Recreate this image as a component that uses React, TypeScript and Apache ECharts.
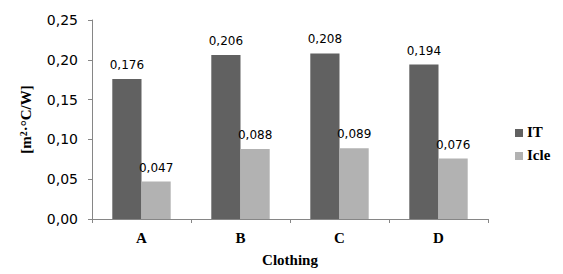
import React, { useEffect, useRef } from "react";
import * as echarts from "echarts";

const categories = ["A", "B", "C", "D"];
const seriesNames = ["IT", "Icle"];
const itValues = [0.176, 0.206, 0.208, 0.194];
const icleValues = [0.047, 0.088, 0.089, 0.076];
const SERIF = "Liberation Serif";
const SANS = "DejaVu Sans";

const fmt = (v: number, d: number) => v.toFixed(d).replace(".", ",");

export default function App() {
  const ref = useRef<HTMLDivElement>(null);
  useEffect(() => {
    const chart = echarts.init(ref.current!, null, { renderer: "svg" });
    const label = {
      show: true,
      position: "top" as const,
      distance: 8,
      fontFamily: SANS,
      fontSize: 12,
      color: "#000",
      formatter: (p: any) => fmt(p.value, 3),
    };
    chart.setOption({
      animation: false,
      backgroundColor: "#fff",
      grid: { left: 92, top: 20, right: 75, bottom: 55 },
      legend: {
        orient: "vertical",
        left: 515,
        top: 129,
        padding: 0,
        itemWidth: 8,
        itemHeight: 8,
        itemGap: 15,
        icon: "rect",
        formatter: () => "",
        textStyle: { fontSize: 8, padding: 0 },
        data: seriesNames,
      },
      graphic: seriesNames.map((n, i) => ({
        type: "text",
        left: 527,
        top: 124 + i * 23,
        silent: true,
        style: {
          text: n,
          fontFamily: SERIF,
          fontSize: 15,
          fontWeight: "bold",
          fill: "#000",
        },
      })),
      xAxis: {
        type: "category",
        data: categories,
        name: "Clothing",
        nameLocation: "middle",
        nameGap: 33,
        nameTextStyle: { fontFamily: SERIF, fontSize: 15, fontWeight: "bold", color: "#000" },
        axisLine: { lineStyle: { color: "#868686" } },
        axisTick: { show: true, length: 4, lineStyle: { color: "#868686" } },
        axisLabel: { fontFamily: SERIF, fontSize: 15, fontWeight: "bold", color: "#000", margin: 11 },
      },
      yAxis: {
        type: "value",
        min: 0,
        max: 0.25,
        interval: 0.05,
        name: "{a|[m}{s|2}{a|·°C/W]}",
        nameLocation: "middle",
        nameGap: 58,
        nameRotate: 90,
        nameTextStyle: {
          rich: {
            a: { fontFamily: SERIF, fontSize: 15, fontWeight: "bold", color: "#000" },
            s: { fontFamily: SERIF, fontSize: 10, fontWeight: "bold", color: "#000", verticalAlign: "top", padding: [0, 0, 6, 0] },
          },
        },
        axisLine: { show: true, lineStyle: { color: "#868686" } },
        axisTick: { show: true, length: 4, lineStyle: { color: "#868686" } },
        splitLine: { show: false },
        axisLabel: {
          fontFamily: SANS,
          fontSize: 14,
          color: "#000",
          margin: 14,
          formatter: (v: number) => fmt(v, 2),
        },
      },
      series: [
        {
          name: seriesNames[0],
          type: "bar",
          data: itValues,
          barGap: "0%",
          barCategoryGap: "41%",
          itemStyle: { color: "#616161" },
          label,
        },
        {
          name: seriesNames[1],
          type: "bar",
          data: icleValues,
          itemStyle: { color: "#b2b2b2" },
          label,
        },
      ],
    });
    return () => chart.dispose();
  }, []);
  return <div ref={ref} style={{ width: 563, height: 274, position: "absolute", left: 0, top: 0 }} />;
}
